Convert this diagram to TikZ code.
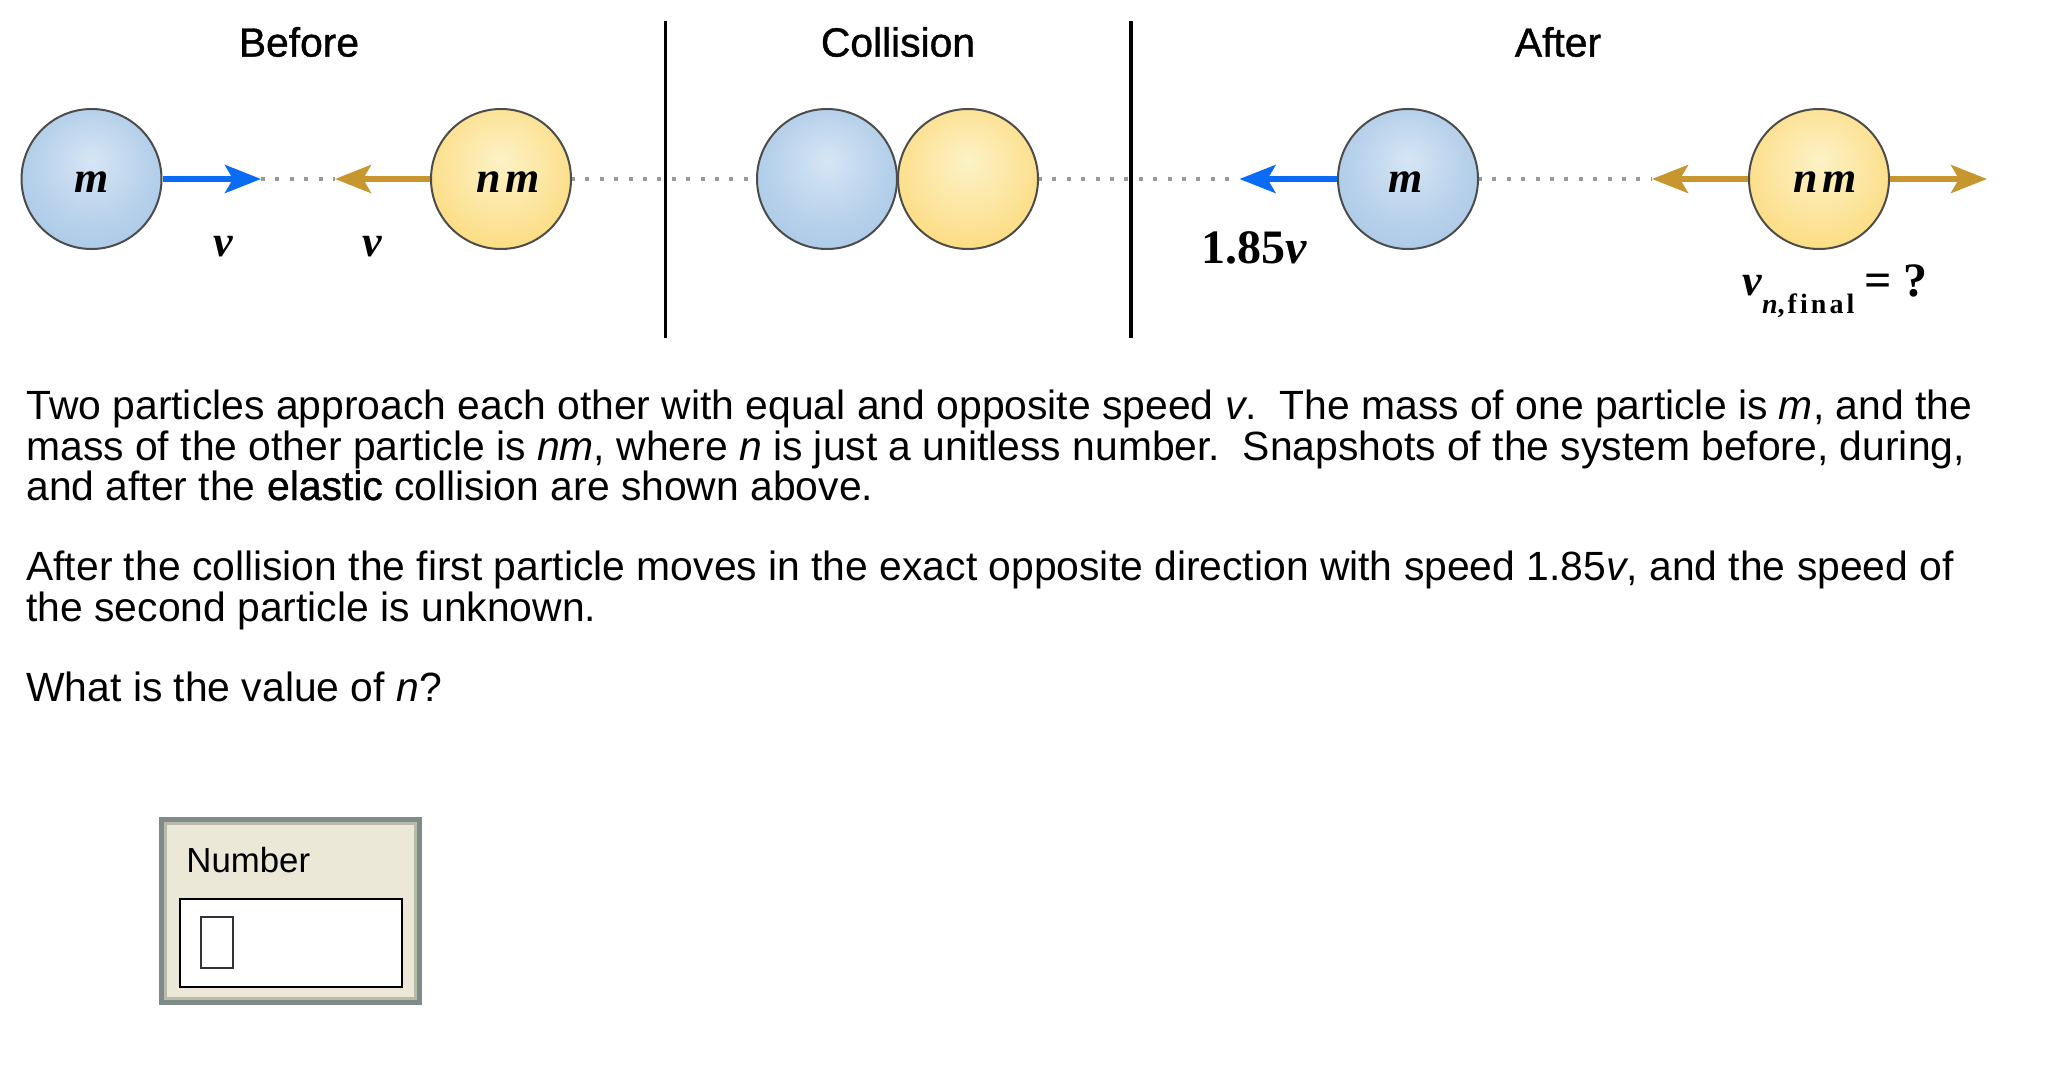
\documentclass[tikz,border=0pt]{standalone}
\usepackage{fontspec}
\setmainfont{Liberation Sans}
\newfontfamily\labelfont{Liberation Serif}
\newfontfamily\heavyfont[FakeBold=1]{Liberation Sans}
\usetikzlibrary{arrows.meta}
\definecolor{bluemass}{HTML}{0A6CF5}
\definecolor{brownmass}{HTML}{C8962F}
\definecolor{boxfill}{HTML}{EBE8D8}
\definecolor{boxedge}{HTML}{7E8B88}
\definecolor{boxbevel}{HTML}{B8BAAA}
\pgfdeclareradialshading{blueball}{\pgfpoint{0bp}{7bp}}{rgb(0bp)=(0.84,0.90,0.96);rgb(20bp)=(0.72,0.82,0.92);rgb(34bp)=(0.65,0.78,0.90);rgb(50bp)=(0.60,0.74,0.88)}
\pgfdeclareradialshading{yellowball}{\pgfpoint{0bp}{7bp}}{rgb(0bp)=(0.99,0.95,0.78);rgb(20bp)=(0.99,0.89,0.60);rgb(34bp)=(0.99,0.85,0.45);rgb(50bp)=(0.99,0.82,0.38)}
\tikzset{
	x=0.5pt,y=-0.5pt,
	ball/.style={circle,draw=black!70,line width=1pt,minimum size=70pt,inner sep=0pt},
	blueone/.style={ball,shading=blueball},
	yellowone/.style={ball,shading=yellowball},
	heading/.style={inner sep=0pt,font=\heavyfont\fontsize{20.4}{21}\selectfont},
	bodytext/.style={anchor=base west,inner sep=0pt,font=\fontsize{20.42}{21}\selectfont},
	speedlabel/.style={inner sep=0pt,font=\labelfont\bfseries\fontsize{22}{24}\selectfont},
	bluearrow/.style={draw=bluemass,line width=2.8pt,-{Stealth[length=18pt,width=14pt,inset=4pt]}},
	brownarrow/.style={draw=brownmass,line width=2.8pt,-{Stealth[length=18pt,width=14pt,inset=4pt]}},
	track/.style={draw=black!40,line width=2pt,dash pattern=on 2pt off 5.2pt},
	divider/.style={line width=1.7pt}
}

\begin{document}
\begin{tikzpicture}
	\useasboundingbox (0,0) rectangle (2046,1072);
	%%%%% START %%%%%
	\node[heading] (before) at (299, 42) {Before};
	\node[heading] (collision) at (898, 42) {Collision};
	\node[heading] (after) at (1558, 42) {After};

	\coordinate (divonetop) at (665.5, 21);
	\coordinate (divonebot) at (665.5, 338);
	\coordinate (divtwotop) at (1131, 21);
	\coordinate (divtwobot) at (1131, 338);

	\coordinate (tipa) at (261, 179);
	\coordinate (tipb) at (335, 179);
	\coordinate (tipc) at (1239.5, 179);
	\coordinate (tipd) at (1652, 179);
	\coordinate (tipe) at (1987, 179);

	% dotted line first, so balls and arrows sit on top
	\draw[track] (tipa) -- (tipb);
	\draw[track] (571, 179) -- (757, 179);
	\draw[track] (1038, 179) -- (tipc);
	\draw[track] (1478, 179) -- (tipd);
	\draw[divider] (divonetop) -- (divonebot);
	\draw[divider] (divtwotop) -- (divtwobot);

	\node[blueone] (mbefore) at (91.5, 179) {};
	\node[yellowone] (nmbefore) at (501, 179) {};
	\node[blueone] (mcoll) at (827, 179) {};
	\node[yellowone] (nmcoll) at (968, 179) {};
	\node[blueone] (mafter) at (1408, 179) {};
	\node[yellowone] (nmafter) at (1819, 179) {};

	\node[speedlabel] (mtexta) at (91.5, 182) {\itshape m};
	\node[speedlabel] (nmtexta) at (508, 182) {\itshape n\kern2.5pt m};
	\node[speedlabel] (mtextb) at (1406, 182) {\itshape m};
	\node[speedlabel] (nmtextb) at (1825, 182) {\itshape n\kern2.5pt m};

	\draw[bluearrow] (mbefore) -- (tipa);
	\draw[brownarrow] (nmbefore) -- (tipb);
	\draw[bluearrow] (mafter) -- (tipc);
	\draw[brownarrow] (nmafter) -- (tipd);
	\draw[brownarrow] (nmafter) -- (tipe);

	\node[speedlabel] (va) at (223, 247) {\itshape v};
	\node[speedlabel] (vb) at (372, 247) {\itshape v};
	\node[speedlabel,font=\labelfont\bfseries\fontsize{24}{26}\selectfont] (vafter) at (1254, 248) {1.85\textit{v}};
	\node[speedlabel] (vfinal) at (1835, 291) {\textit{v}\raisebox{-9pt}{\addfontfeature{LetterSpace=11}\fontsize{14}{15}\selectfont\textit{n},final}\kern5pt\raisebox{-0.5pt}{\fontsize{24}{26}\selectfont= ?}};

	\node[bodytext] (lineone) at (26, 419) {Two particles approach each other with equal and opposite speed \textit{v}.\ \ The mass of one particle is \textit{m}, and the};
	\node[bodytext] (linetwo) at (26, 460) {mass of the other particle is \textit{nm}, where \textit{n} is just a unitless number.\ \ Snapshots of the system before, during,};
	\node[bodytext] (linethree) at (26, 500) {and after the {\heavyfont elastic} collision are shown above.};
	\node[bodytext] (linefour) at (26, 580) {After the collision the first particle moves in the exact opposite direction with speed 1.85\textit{v}, and the speed of};
	\node[bodytext] (linefive) at (26, 621.5) {the second particle is unknown.};
	\node[bodytext] (linesix) at (26, 701) {What is the value of \textit{n}?};

	\draw[fill=boxfill,draw=boxedge,line width=3pt] (162, 820) rectangle (419, 1002);
	\draw[draw=boxbevel,line width=1.5pt] (165.25, 823.25) rectangle (415.75, 998.75);
	\node[bodytext,font=\fontsize{17.4}{18}\selectfont] (numberlabel) at (186, 872) {Number};
	\draw[fill=white,line width=1pt] (180, 899) rectangle (402, 987);
	\draw[draw=black!80,line width=1pt] (201, 917) rectangle (233, 968);
	%%%%% END %%%%%
\end{tikzpicture}
\end{document}
